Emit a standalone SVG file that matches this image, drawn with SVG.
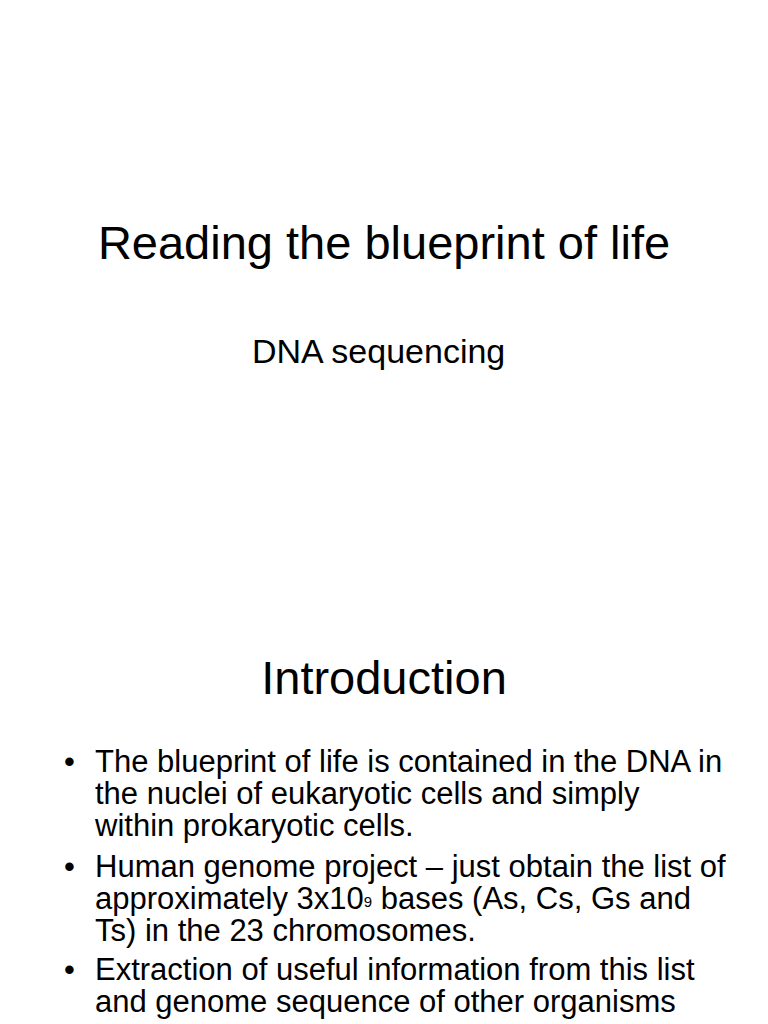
<svg xmlns="http://www.w3.org/2000/svg" width="768" height="1024" viewBox="0 0 768 1024">
<style>
text{font-family:"Liberation Sans",Arial,sans-serif;fill:#000}
.b{font-size:31px}
.c{text-anchor:middle}
</style>
<rect width="768" height="1024" fill="#fff"/>
<text class="c" x="384" y="259" font-size="47">Reading the blueprint of life</text>
<text x="252" y="363" font-size="34">DNA sequencing</text>
<text class="c" x="384" y="694" font-size="47">Introduction</text>
<g class="b">
<text x="64" y="772">•</text>
<text x="95" y="772">The blueprint of life is contained in the DNA in</text>
<text x="95" y="804">the nuclei of eukaryotic cells and simply</text>
<text x="95" y="836">within prokaryotic cells.</text>
<text x="64" y="877">•</text>
<text x="95" y="877">Human genome project – just obtain the list of</text>
<text x="95" y="909">approximately 3x10<tspan font-size="15" dy="-2">9</tspan><tspan dy="2"> bases (As, Cs, Gs and</tspan></text>
<text x="95" y="941">Ts) in the 23 chromosomes.</text>
<text x="64" y="980">•</text>
<text x="95" y="980">Extraction of useful information from this list</text>
<text x="95" y="1012">and genome sequence of other organisms</text>
</g>
</svg>
